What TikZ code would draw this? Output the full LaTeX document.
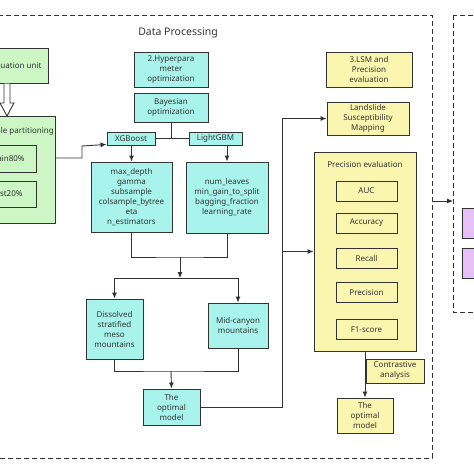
\documentclass[tikz,border=0pt]{standalone}
\usepackage{fontspec}
\setmainfont{Noto Sans}
\usetikzlibrary{arrows.meta}
\definecolor{boxgreen}{HTML}{CCF7C4}
\definecolor{boxcyan}{HTML}{A8F4EC}
\definecolor{boxyellow}{HTML}{FAF6B0}
\definecolor{boxpurple}{HTML}{E8C0F8}
\definecolor{edge}{HTML}{333333}
\begin{document}
\begin{tikzpicture}[x=1pt, y=-1pt,
	every node/.style={font=\fontsize{8}{10}\selectfont, text=edge},
	box/.style={draw=edge, line width=0.9pt, inner sep=0pt, align=center},
	cyanbox/.style={box, fill=boxcyan},
	greenbox/.style={box, fill=boxgreen},
	yellowbox/.style={box, fill=boxyellow},
	purplebox/.style={box, fill=boxpurple},
	arr/.style={draw=edge, line width=0.9pt, -{Latex[length=6pt,width=5pt]}},
	link/.style={draw=edge, line width=0.9pt}]
	\useasboundingbox (0,0) rectangle (474,474);
	% Outer frames
	\draw[edge, line width=0.9pt, dash pattern=on 5pt off 3pt] (-5,15) rectangle (432,458);
	\draw[edge, line width=0.9pt, dash pattern=on 5pt off 3pt] (453,15) rectangle (510,312);
	\node[font=\fontsize{10.5}{12}\selectfont] (title) at (178,33) {Data Processing};
	% Evaluation unit and samples
	\node[greenbox, anchor=east, minimum height=35pt, inner xsep=7pt] (unit) at (49,65.5) {Evaluation unit};
	\node[greenbox, minimum width=80pt, minimum height=107pt] (samples) at (15,169.5) {};
	\node[anchor=east, inner sep=0pt] (sampletitle) at (54,131) {Sample partitioning};
	\node[greenbox, anchor=east, minimum height=27pt, inner xsep=12pt] (train) at (37,158.5) {Train80\%};
	\node[greenbox, anchor=east, minimum height=26pt, inner xsep=14pt] (test) at (37,194) {Test20\%};
	\draw[edge, line width=0.9pt, fill=white] (4,83.5) -- (4,103) -- (0,103) -- (7,116) -- (14,103) -- (10,103) -- (10,83.5);
	% Hyperparameter optimization
	\node[cyanbox, minimum width=74pt, minimum height=35pt] (hyper) at (171,69.5) {2.Hyperpara\\meter\\optimization};
	\node[cyanbox, minimum width=74pt, minimum height=29pt] (bayes) at (171,107.5) {Bayesian\\optimization};
	\node[cyanbox, minimum width=48pt, minimum height=13pt] (xgb) at (131,138.5) {XGBoost};
	\node[cyanbox, minimum width=53pt, minimum height=13pt] (lgbm) at (215.5,138.5) {LightGBM};
	\node[cyanbox, minimum width=81pt, minimum height=70pt] (xgbpar) at (131.5,197) {max\_depth\\gamma\\subsample\\colsample\_bytree\\eta\\n\_estimators};
	\node[cyanbox, minimum width=82pt, minimum height=71pt] (lgbpar) at (227,197.5) {num\_leaves\\min\_gain\_to\_split\\bagging\_fraction\\learning\_rate};
	\node[cyanbox, minimum width=57pt, minimum height=60pt] (dissolved) at (114.5,329) {Dissolved\\stratified\\meso\\mountains};
	\node[cyanbox, minimum width=60pt, minimum height=45pt] (canyon) at (238,325.5) {Mid-canyon\\mountains};
	\node[cyanbox, minimum width=57pt, minimum height=36pt] (bestcyan) at (171.5,407) {The\\optimal\\model};
	% LSM and precision evaluation
	\node[yellowbox, minimum width=86pt, minimum height=35pt] (lsmtitle) at (369,69.5) {3.LSM and\\Precision\\evaluation};
	\node[yellowbox, minimum width=82pt, minimum height=33pt] (lsm) at (368,118.5) {Landslide\\Susceptibility\\Mapping};
	\node[yellowbox, minimum width=102pt, minimum height=199pt] (preceval) at (365,251.5) {};
	\node (prectitle) at (365,164) {Precision evaluation};
	\foreach \name/\txt/\y in {auc/AUC/191, acc/Accuracy/223, recall/Recall/258, prec/Precision/292.5, fone/F1-score/329.5}
		\node[yellowbox, minimum width=61pt, minimum height=20pt] (\name) at (366.5,\y) {\txt};
	\node[yellowbox, minimum width=58pt, minimum height=24pt] (contrast) at (395,371) {Contrastive\\analysis};
	\node[yellowbox, minimum width=56pt, minimum height=35pt] (bestyellow) at (365,415.5) {The\\optimal\\model};
	% Right part
	\node[purplebox, anchor=west, minimum width=40pt, minimum height=30pt] (pone) at (462,223) {};
	\node[purplebox, anchor=west, minimum width=40pt, minimum height=30pt] (ptwo) at (462,263) {};
	% Connectors
	\coordinate (bend) at (82,158);
	\draw[arr] (samples.east |- bend) -- (bend) -- (82,146) -- ([yshift=1pt]xgb.south west);
	\draw[link] (xgb.east) -- (lgbm.west);
	\draw[link] (bayes.south) -- (bayes.south |- xgb.east);
	\draw[arr] (xgb.south -| xgbpar.north) -- (xgbpar.north);
	\draw[arr] (lgbpar.north |- lgbm.south) -- (lgbpar.north);
	\coordinate (joinone) at (180,257);
	\coordinate (split) at (180,278);
	\draw[link] (xgbpar.south) |- (joinone) -| (lgbpar.south);
	\draw[arr] (joinone) -- (split);
	\draw[arr] (split) -| (dissolved.north);
	\draw[arr] (split) -| (canyon.north);
	\coordinate (jointwo) at (171,371);
	\draw[link] (dissolved.south) |- (jointwo) -| (canyon.south);
	\draw[arr] (jointwo) -- (bestcyan.north);
	\coordinate (riser) at (282,407);
	\draw[link] (bestcyan.east) -- (riser) -- (riser |- lsm.west);
	\draw[arr] (riser |- lsm.west) -- (lsm.west);
	\draw[arr] (riser |- preceval.west) -- (preceval.west);
	\draw[arr] (preceval.south) -- (bestyellow.north);
	\draw[arr] (432,201) -- (453,201);
\end{tikzpicture}
\end{document}
